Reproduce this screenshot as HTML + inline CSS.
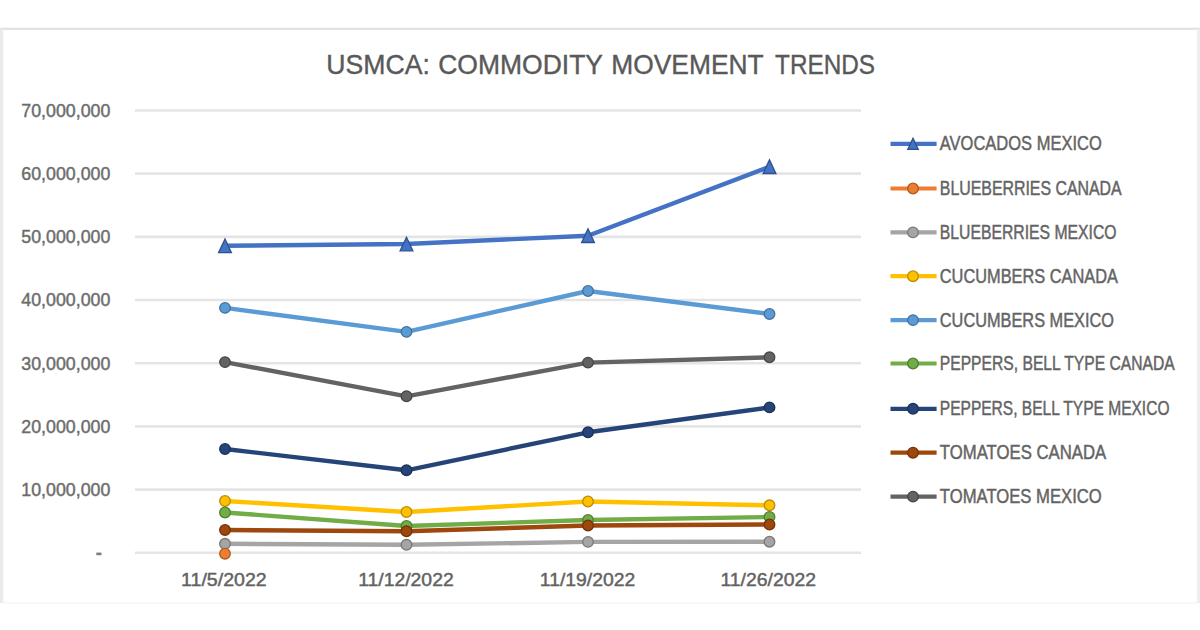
<!DOCTYPE html><html><head><meta charset="utf-8"><style>html,body{margin:0;padding:0;background:#fff;width:1200px;height:630px;overflow:hidden}svg{display:block}text{font-family:"Liberation Sans",sans-serif}</style></head><body>
<svg width="1200" height="630" viewBox="0 0 1200 630">
<rect x="0" y="0" width="1200" height="630" fill="#fff"/>
<rect x="0" y="27.7" width="1200" height="2.3" fill="#e2e2e2"/>
<rect x="0" y="29" width="3.2" height="574" fill="#eaeaea"/>
<rect x="1197" y="29" width="3" height="574" fill="#eeeeee"/>
<rect x="3" y="601.8" width="1194" height="2.2" fill="#f8f8f8"/>
<text x="326.30" y="74.3" font-size="28.3" fill="#595959" stroke="#595959" stroke-width="0.4" textLength="103.50" lengthAdjust="spacingAndGlyphs">USMCA:</text>
<text x="438.20" y="74.3" font-size="28.3" fill="#595959" stroke="#595959" stroke-width="0.4" textLength="164.80" lengthAdjust="spacingAndGlyphs">COMMODITY</text>
<text x="611.30" y="74.3" font-size="28.3" fill="#595959" stroke="#595959" stroke-width="0.4" textLength="152.30" lengthAdjust="spacingAndGlyphs">MOVEMENT</text>
<text x="775.10" y="74.3" font-size="28.3" fill="#595959" stroke="#595959" stroke-width="0.4" textLength="100.00" lengthAdjust="spacingAndGlyphs">TRENDS</text>
<line x1="135" y1="552.80" x2="861" y2="552.80" stroke="#e5e5e5" stroke-width="2.6"/>
<line x1="135" y1="489.61" x2="861" y2="489.61" stroke="#e5e5e5" stroke-width="2.6"/>
<line x1="135" y1="426.42" x2="861" y2="426.42" stroke="#e5e5e5" stroke-width="2.6"/>
<line x1="135" y1="363.23" x2="861" y2="363.23" stroke="#e5e5e5" stroke-width="2.6"/>
<line x1="135" y1="300.04" x2="861" y2="300.04" stroke="#e5e5e5" stroke-width="2.6"/>
<line x1="135" y1="236.85" x2="861" y2="236.85" stroke="#e5e5e5" stroke-width="2.6"/>
<line x1="135" y1="173.66" x2="861" y2="173.66" stroke="#e5e5e5" stroke-width="2.6"/>
<line x1="135" y1="110.47" x2="861" y2="110.47" stroke="#e5e5e5" stroke-width="2.6"/>
<text x="110.3" y="496.01" font-size="18.5" fill="#6c6c6c" stroke="#6c6c6c" stroke-width="0.45" text-anchor="end" textLength="89" lengthAdjust="spacingAndGlyphs">10,000,000</text>
<text x="110.3" y="432.82" font-size="18.5" fill="#6c6c6c" stroke="#6c6c6c" stroke-width="0.45" text-anchor="end" textLength="89" lengthAdjust="spacingAndGlyphs">20,000,000</text>
<text x="110.3" y="369.63" font-size="18.5" fill="#6c6c6c" stroke="#6c6c6c" stroke-width="0.45" text-anchor="end" textLength="89" lengthAdjust="spacingAndGlyphs">30,000,000</text>
<text x="110.3" y="306.44" font-size="18.5" fill="#6c6c6c" stroke="#6c6c6c" stroke-width="0.45" text-anchor="end" textLength="89" lengthAdjust="spacingAndGlyphs">40,000,000</text>
<text x="110.3" y="243.25" font-size="18.5" fill="#6c6c6c" stroke="#6c6c6c" stroke-width="0.45" text-anchor="end" textLength="89" lengthAdjust="spacingAndGlyphs">50,000,000</text>
<text x="110.3" y="180.06" font-size="18.5" fill="#6c6c6c" stroke="#6c6c6c" stroke-width="0.45" text-anchor="end" textLength="89" lengthAdjust="spacingAndGlyphs">60,000,000</text>
<text x="110.3" y="116.87" font-size="18.5" fill="#6c6c6c" stroke="#6c6c6c" stroke-width="0.45" text-anchor="end" textLength="89" lengthAdjust="spacingAndGlyphs">70,000,000</text>
<rect x="96.3" y="552.6" width="5.2" height="2.6" fill="#7d7d7d"/>
<text x="181.1" y="585.6" font-size="18.5" fill="#626262" stroke="#626262" stroke-width="0.45" textLength="85.6" lengthAdjust="spacingAndGlyphs">11/5/2022</text>
<text x="358.2" y="585.6" font-size="18.5" fill="#626262" stroke="#626262" stroke-width="0.45" textLength="95.5" lengthAdjust="spacingAndGlyphs">11/12/2022</text>
<text x="539.8" y="585.6" font-size="18.5" fill="#626262" stroke="#626262" stroke-width="0.45" textLength="95.5" lengthAdjust="spacingAndGlyphs">11/19/2022</text>
<text x="720.5" y="585.6" font-size="18.5" fill="#626262" stroke="#626262" stroke-width="0.45" textLength="95.5" lengthAdjust="spacingAndGlyphs">11/26/2022</text>
<polyline points="225.00,245.80 406.50,244.00 588.00,235.70 769.50,166.70" fill="none" stroke="#4472C4" stroke-width="4.4" stroke-linejoin="round" stroke-linecap="round"/>
<path d="M225.00 239.00 L231.40 252.60 L218.60 252.60 Z" fill="#4472C4" stroke="#2F528F" stroke-width="1.3" stroke-linejoin="miter"/>
<path d="M406.50 237.20 L412.90 250.80 L400.10 250.80 Z" fill="#4472C4" stroke="#2F528F" stroke-width="1.3" stroke-linejoin="miter"/>
<path d="M588.00 228.90 L594.40 242.50 L581.60 242.50 Z" fill="#4472C4" stroke="#2F528F" stroke-width="1.3" stroke-linejoin="miter"/>
<path d="M769.50 159.90 L775.90 173.50 L763.10 173.50 Z" fill="#4472C4" stroke="#2F528F" stroke-width="1.3" stroke-linejoin="miter"/>
<polyline points="225.00,543.80 406.50,544.80 588.00,541.90 769.50,541.70" fill="none" stroke="#A5A5A5" stroke-width="4.4" stroke-linejoin="round" stroke-linecap="round"/>
<circle cx="225.00" cy="543.80" r="5.30" fill="#A5A5A5" stroke="#787878" stroke-width="1.3"/>
<circle cx="406.50" cy="544.80" r="5.30" fill="#A5A5A5" stroke="#787878" stroke-width="1.3"/>
<circle cx="588.00" cy="541.90" r="5.30" fill="#A5A5A5" stroke="#787878" stroke-width="1.3"/>
<circle cx="769.50" cy="541.70" r="5.30" fill="#A5A5A5" stroke="#787878" stroke-width="1.3"/>
<polyline points="225.00,501.00 406.50,512.00 588.00,501.50 769.50,505.30" fill="none" stroke="#FFC000" stroke-width="4.4" stroke-linejoin="round" stroke-linecap="round"/>
<circle cx="225.00" cy="501.00" r="5.30" fill="#FFC000" stroke="#BC8C00" stroke-width="1.3"/>
<circle cx="406.50" cy="512.00" r="5.30" fill="#FFC000" stroke="#BC8C00" stroke-width="1.3"/>
<circle cx="588.00" cy="501.50" r="5.30" fill="#FFC000" stroke="#BC8C00" stroke-width="1.3"/>
<circle cx="769.50" cy="505.30" r="5.30" fill="#FFC000" stroke="#BC8C00" stroke-width="1.3"/>
<polyline points="225.00,307.90 406.50,331.90 588.00,291.00 769.50,314.00" fill="none" stroke="#5B9BD5" stroke-width="4.4" stroke-linejoin="round" stroke-linecap="round"/>
<circle cx="225.00" cy="307.90" r="5.30" fill="#5B9BD5" stroke="#41719C" stroke-width="1.3"/>
<circle cx="406.50" cy="331.90" r="5.30" fill="#5B9BD5" stroke="#41719C" stroke-width="1.3"/>
<circle cx="588.00" cy="291.00" r="5.30" fill="#5B9BD5" stroke="#41719C" stroke-width="1.3"/>
<circle cx="769.50" cy="314.00" r="5.30" fill="#5B9BD5" stroke="#41719C" stroke-width="1.3"/>
<polyline points="225.00,512.50 406.50,526.00 588.00,520.00 769.50,517.00" fill="none" stroke="#70AD47" stroke-width="4.4" stroke-linejoin="round" stroke-linecap="round"/>
<circle cx="225.00" cy="512.50" r="5.30" fill="#70AD47" stroke="#507E32" stroke-width="1.3"/>
<circle cx="406.50" cy="526.00" r="5.30" fill="#70AD47" stroke="#507E32" stroke-width="1.3"/>
<circle cx="588.00" cy="520.00" r="5.30" fill="#70AD47" stroke="#507E32" stroke-width="1.3"/>
<circle cx="769.50" cy="517.00" r="5.30" fill="#70AD47" stroke="#507E32" stroke-width="1.3"/>
<polyline points="225.00,449.00 406.50,470.30 588.00,432.30 769.50,407.40" fill="none" stroke="#264478" stroke-width="4.4" stroke-linejoin="round" stroke-linecap="round"/>
<circle cx="225.00" cy="449.00" r="5.30" fill="#264478" stroke="#1B3158" stroke-width="1.3"/>
<circle cx="406.50" cy="470.30" r="5.30" fill="#264478" stroke="#1B3158" stroke-width="1.3"/>
<circle cx="588.00" cy="432.30" r="5.30" fill="#264478" stroke="#1B3158" stroke-width="1.3"/>
<circle cx="769.50" cy="407.40" r="5.30" fill="#264478" stroke="#1B3158" stroke-width="1.3"/>
<polyline points="225.00,530.00 406.50,531.30 588.00,525.50 769.50,524.50" fill="none" stroke="#9E480E" stroke-width="4.4" stroke-linejoin="round" stroke-linecap="round"/>
<circle cx="225.00" cy="530.00" r="5.30" fill="#9E480E" stroke="#71340A" stroke-width="1.3"/>
<circle cx="406.50" cy="531.30" r="5.30" fill="#9E480E" stroke="#71340A" stroke-width="1.3"/>
<circle cx="588.00" cy="525.50" r="5.30" fill="#9E480E" stroke="#71340A" stroke-width="1.3"/>
<circle cx="769.50" cy="524.50" r="5.30" fill="#9E480E" stroke="#71340A" stroke-width="1.3"/>
<polyline points="225.00,362.10 406.50,396.30 588.00,362.60 769.50,357.30" fill="none" stroke="#636363" stroke-width="4.4" stroke-linejoin="round" stroke-linecap="round"/>
<circle cx="225.00" cy="362.10" r="5.30" fill="#636363" stroke="#474747" stroke-width="1.3"/>
<circle cx="406.50" cy="396.30" r="5.30" fill="#636363" stroke="#474747" stroke-width="1.3"/>
<circle cx="588.00" cy="362.60" r="5.30" fill="#636363" stroke="#474747" stroke-width="1.3"/>
<circle cx="769.50" cy="357.30" r="5.30" fill="#636363" stroke="#474747" stroke-width="1.3"/>
<circle cx="225.00" cy="553.70" r="5.30" fill="#ED7D31" stroke="#AE5A21" stroke-width="1.3"/>
<line x1="890.5" y1="143.80" x2="936.6" y2="143.80" stroke="#4472C4" stroke-width="4.2" stroke-linecap="butt"/>
<path d="M913.00 138.22 L918.25 149.38 L907.75 149.38 Z" fill="#4472C4" stroke="#2F528F" stroke-width="1.3" stroke-linejoin="miter"/>
<text x="939.8" y="150.20" font-size="19.3" fill="#646464" stroke="#646464" stroke-width="0.45" textLength="162.0" lengthAdjust="spacingAndGlyphs">AVOCADOS MEXICO</text>
<line x1="890.5" y1="188.50" x2="936.6" y2="188.50" stroke="#ED7D31" stroke-width="4.2" stroke-linecap="butt"/>
<circle cx="913.00" cy="188.50" r="5.30" fill="#ED7D31" stroke="#AE5A21" stroke-width="1.3"/>
<text x="939.8" y="194.90" font-size="19.3" fill="#646464" stroke="#646464" stroke-width="0.45" textLength="181.9" lengthAdjust="spacingAndGlyphs">BLUEBERRIES CANADA</text>
<line x1="890.5" y1="232.40" x2="936.6" y2="232.40" stroke="#A5A5A5" stroke-width="4.2" stroke-linecap="butt"/>
<circle cx="913.00" cy="232.40" r="5.30" fill="#A5A5A5" stroke="#787878" stroke-width="1.3"/>
<text x="939.8" y="238.80" font-size="19.3" fill="#646464" stroke="#646464" stroke-width="0.45" textLength="176.8" lengthAdjust="spacingAndGlyphs">BLUEBERRIES MEXICO</text>
<line x1="890.5" y1="276.20" x2="936.6" y2="276.20" stroke="#FFC000" stroke-width="4.2" stroke-linecap="butt"/>
<circle cx="913.00" cy="276.20" r="5.30" fill="#FFC000" stroke="#BC8C00" stroke-width="1.3"/>
<text x="939.8" y="282.60" font-size="19.3" fill="#646464" stroke="#646464" stroke-width="0.45" textLength="178.1" lengthAdjust="spacingAndGlyphs">CUCUMBERS CANADA</text>
<line x1="890.5" y1="320.10" x2="936.6" y2="320.10" stroke="#5B9BD5" stroke-width="4.2" stroke-linecap="butt"/>
<circle cx="913.00" cy="320.10" r="5.30" fill="#5B9BD5" stroke="#41719C" stroke-width="1.3"/>
<text x="939.8" y="326.50" font-size="19.3" fill="#646464" stroke="#646464" stroke-width="0.45" textLength="174.2" lengthAdjust="spacingAndGlyphs">CUCUMBERS MEXICO</text>
<line x1="890.5" y1="363.50" x2="936.6" y2="363.50" stroke="#70AD47" stroke-width="4.2" stroke-linecap="butt"/>
<circle cx="913.00" cy="363.50" r="5.30" fill="#70AD47" stroke="#507E32" stroke-width="1.3"/>
<text x="939.8" y="369.90" font-size="19.3" fill="#646464" stroke="#646464" stroke-width="0.45" textLength="234.9" lengthAdjust="spacingAndGlyphs">PEPPERS, BELL TYPE CANADA</text>
<line x1="890.5" y1="408.80" x2="936.6" y2="408.80" stroke="#264478" stroke-width="4.2" stroke-linecap="butt"/>
<circle cx="913.00" cy="408.80" r="5.30" fill="#264478" stroke="#1B3158" stroke-width="1.3"/>
<text x="939.8" y="415.20" font-size="19.3" fill="#646464" stroke="#646464" stroke-width="0.45" textLength="229.7" lengthAdjust="spacingAndGlyphs">PEPPERS, BELL TYPE MEXICO</text>
<line x1="890.5" y1="452.70" x2="936.6" y2="452.70" stroke="#9E480E" stroke-width="4.2" stroke-linecap="butt"/>
<circle cx="913.00" cy="452.70" r="5.30" fill="#9E480E" stroke="#71340A" stroke-width="1.3"/>
<text x="939.8" y="459.10" font-size="19.3" fill="#646464" stroke="#646464" stroke-width="0.45" textLength="166.4" lengthAdjust="spacingAndGlyphs">TOMATOES CANADA</text>
<line x1="890.5" y1="496.60" x2="936.6" y2="496.60" stroke="#636363" stroke-width="4.2" stroke-linecap="butt"/>
<circle cx="913.00" cy="496.60" r="5.30" fill="#636363" stroke="#474747" stroke-width="1.3"/>
<text x="939.8" y="503.00" font-size="19.3" fill="#646464" stroke="#646464" stroke-width="0.45" textLength="162.0" lengthAdjust="spacingAndGlyphs">TOMATOES MEXICO</text>
</svg></body></html>
